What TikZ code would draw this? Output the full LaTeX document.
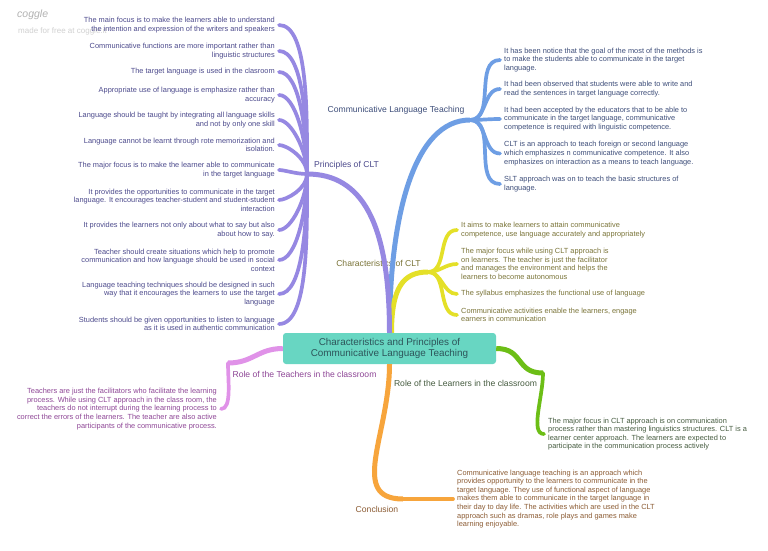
\documentclass[tikz,border=0pt]{standalone}
\usepackage{fontspec}
\setmainfont{Liberation Sans}
\definecolor{lavender}{RGB}{150,136,226}
\definecolor{lavtext}{RGB}{76,74,140}
\definecolor{sky}{RGB}{110,158,228}
\definecolor{skytext}{RGB}{62,78,122}
\definecolor{lemon}{RGB}{228,224,40}
\definecolor{lemontext}{RGB}{122,116,56}
\definecolor{orchid}{RGB}{224,146,232}
\definecolor{orchidtext}{RGB}{142,70,150}
\definecolor{grass}{RGB}{108,190,22}
\definecolor{grasstext}{RGB}{70,92,64}
\definecolor{tangerine}{RGB}{247,165,60}
\definecolor{tangtext}{RGB}{140,92,52}
\definecolor{mint}{RGB}{104,214,194}
\definecolor{mintdark}{RGB}{45,85,90}
\tikzset{
  leaf/.style={font=\fontsize{7.4}{8.6}\selectfont,text=#1,inner xsep=4pt,inner ysep=1pt},
  leaf west/.style={leaf=#1,anchor=west,align=left},
  leaf east/.style={leaf=#1,anchor=east,align=right},
  branch/.style={font=\fontsize{8.6}{10}\selectfont,text=#1,inner sep=1pt},
  limb/.style={draw=#1,line width=5},
  twig/.style={draw=#1,line width=3.7,line cap=round},
  centre box/.style={fill=mint,rounded corners=3pt,minimum width=213,minimum height=31,
    align=center,font=\fontsize{9.9}{11.4}\selectfont,text=mintdark,inner sep=2pt},
}
\begin{document}
\begin{tikzpicture}[x=1pt,y=1pt]
  \fill[white] (0,0) rectangle (768,-551);
  \useasboundingbox (0,0) rectangle (768,-551);
  \node[font=\itshape\fontsize{10.5}{10.5}\selectfont,text=black!30,anchor=west,inner sep=0pt] (logo) at (17,-15) {coggle};
  \node[font=\fontsize{8}{8}\selectfont,text=black!18,anchor=west,inner sep=0pt] (credit) at (18,-31) {made for free at coggle.it};

  \node[centre box] (root) at (389.5,-348.5) {Characteristics and Principles of\\Communicative Language Teaching};

  \coordinate (prinhub) at (307,-174);
  \coordinate (clthub) at (470,-120);
  \coordinate (charhub) at (428,-272);
  \coordinate (teachhub) at (228,-363);
  \coordinate (learnhub) at (543,-373);
  \coordinate (conclhub) at (403,-499);

  \node[branch=lavtext] (prin) at (346.5,-165) {Principles of CLT};
  \node[branch=skytext] (clt) at (396,-110) {Communicative Language Teaching};
  \node[branch=lemontext] (char) at (378.5,-263) {Characteristics of CLT};
  \node[branch=orchidtext] (teach) at (304.5,-374) {Role of the Teachers in the classroom};
  \node[branch=grasstext] (learn) at (465.5,-383) {Role of the Learners in the classroom};
  \node[branch=tangtext] (concl) at (377,-509) {Conclusion};

  \node[leaf east=lavtext] (p1) at (279,-25) {The main focus is to make the learners able to understand\\the intention and expression of the writers and speakers};
  \node[leaf east=lavtext] (p2) at (279,-51) {Communicative functions are more important rather than\\linguistic structures};
  \node[leaf east=lavtext] (p3) at (279,-72) {The target language is used in the clasroom};
  \node[leaf east=lavtext] (p4) at (279,-95) {Appropriate use of language is emphasize rather than\\accuracy};
  \node[leaf east=lavtext] (p5) at (279,-120) {Language should be taught by integrating all language skills\\and not by only one skill};
  \node[leaf east=lavtext] (p6) at (279,-145) {Language cannot be learnt through rote memorization and\\isolation.};
  \node[leaf east=lavtext] (p7) at (279,-170) {The major focus is to make the learner able to communicate\\in the target language};
  \node[leaf east=lavtext] (p8) at (279,-200) {It provides the opportunities to communicate in the target\\language. It encourages teacher-student and student-student\\interaction};
  \node[leaf east=lavtext] (p9) at (279,-230) {It provides the learners not only about what to say but also\\about how to say.};
  \node[leaf east=lavtext] (p10) at (279,-260) {Teacher should create situations which help to promote\\communication and how language should be used in social\\context};
  \node[leaf east=lavtext] (p11) at (279,-294) {Language teaching techniques should be designed in such\\way that it encourages the learners to use the target\\language};
  \node[leaf east=lavtext] (p12) at (279,-324) {Students should be given opportunities to listen to language\\as it is used in authentic communication};

  \node[leaf west=skytext] (c1) at (500,-60) {It has been notice that the goal of the most of the methods is\\to make the students able to communicate in the target\\language.};
  \node[leaf west=skytext] (c2) at (500,-89) {It had been observed that students were able to write and\\read the sentences in target language correctly.};
  \node[leaf west=skytext] (c3) at (500,-119) {It had been accepted by the educators that to be able to\\communicate in the target language, communicative\\competence is required with linguistic competence.};
  \node[leaf west=skytext] (c4) at (500,-153.5) {CLT is an approach to teach foreign or second language\\which emphasizes n communicative competence. It also\\emphasizes on interaction as a means to teach language.};
  \node[leaf west=skytext] (c5) at (500,-184) {SLT approach was on to teach the basic structures of\\language.};

  \node[leaf west=lemontext] (ch1) at (457,-230) {It aims to make learners to attain communicative\\competence, use language accurately and appropriately};
  \node[leaf west=lemontext] (ch2) at (457,-264) {The major focus while using CLT approach is\\on learners. The teacher is just the facilitator\\and manages the environment and helps the\\learners to become autonomous};
  \node[leaf west=lemontext] (ch3) at (457,-294) {The syllabus emphasizes the functional use of language};
  \node[leaf west=lemontext] (ch4) at (457,-315) {Communicative activities enable the learners, engage\\earners in communication};

  \node[leaf east=orchidtext] (t1) at (221,-409) {Teachers are just the facilitators who facilitate the learning\\process. While using CLT approach in the class room, the\\teachers do not interrupt during the learning process to\\correct the errors of the learners. The teacher are also active\\participants of the communicative process.};
  \node[leaf west=grasstext] (l1) at (544,-434) {The major focus in CLT approach is on communication\\process rather than mastering linguistics structures. CLT is a\\learner center approach. The learners are expected to\\participate in the communication process actively};
  \node[leaf west=tangtext] (k1) at (453,-499) {Communicative language teaching is an approach which\\provides opportunity to the learners to communicate in the\\target language. They use of functional aspect of language\\makes them able to communicate in the target language in\\their day to day life. The activities which are used in the CLT\\approach such as dramas, role plays and games make\\learning enjoyable.};

  \draw[limb=sky] (root.north) to[out=90,in=180,out distance=120,in distance=55] (clthub);
  \draw[limb=lemon] ([xshift=2]root.north) to[out=90,in=180,out distance=45,in distance=25] (charhub);
  \draw[limb=lavender] (root.north) to[out=90,in=0,out distance=110,in distance=55] (prinhub);
  \draw[limb=orchid] (root.west) to[out=180,in=0,distance=25] (teachhub);
  \draw[limb=grass] (root.east) to[out=0,in=180,distance=28] (learnhub);
  \draw[limb=tangerine] (root.south) to[out=-90,in=180,out distance=70,in distance=55] (conclhub);

  \foreach \n/\a in {1/90,2/90,3/90,4/90,5/90,6/90,7/180,8/-90,9/-90,10/-90,11/-90,12/-90}
    \draw[twig=lavender] (prinhub) to[out=\a,in=0,in looseness=0.5] (p\n.east);
  \foreach \n in {1,...,5}
    \draw[twig=sky] (clthub) to[out=0,in=180] (c\n.west);
  \foreach \n in {1,...,4}
    \draw[twig=lemon] (charhub) to[out=0,in=180] (ch\n.west);
  \draw[twig=orchid] (teachhub) to[out=-90,in=0,in looseness=0.6] (t1.east);
  \draw[twig=grass] (learnhub) to[out=-90,in=180,in looseness=0.6] (l1.west);
  \draw[twig=tangerine] (conclhub) -- (k1.west);
\end{tikzpicture}
\end{document}
